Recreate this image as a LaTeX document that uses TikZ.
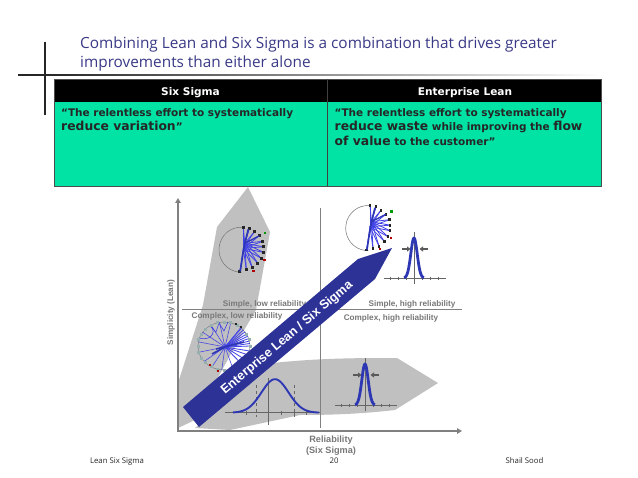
\documentclass[tikz,border=0pt]{standalone}
\usepackage{fontspec}
\setmainfont{Liberation Sans}
\newfontfamily\titlefont{Open Sans}
\newfontfamily\tablefont{DejaVu Sans}
\usetikzlibrary{arrows.meta}
\definecolor{sstitle}{RGB}{58,58,135}
\definecolor{ssgreen}{RGB}{0,227,165}
\definecolor{ssblue}{RGB}{45,50,150}
\definecolor{ssbell}{RGB}{45,55,180}
\definecolor{ssline}{RGB}{64,64,230}
\definecolor{ssgrey}{RGB}{192,192,192}
\definecolor{ssaxis}{RGB}{128,128,128}
\definecolor{sslabel}{RGB}{120,120,120}
\definecolor{ssnode}{RGB}{150,175,175}
\newcommand{\bigcell}{\fontsize{12.4}{14}\selectfont}
\tikzset{
  titletext/.style={anchor=base west,inner sep=0pt,text=sstitle,font=\titlefont\fontsize{15.4}{18}\selectfont},
  headtext/.style={anchor=base,inner sep=0pt,text=white,font=\tablefont\bfseries\fontsize{10.6}{12}\selectfont},
  celltext/.style={anchor=base west,inner sep=0pt,text=black!85,font=\tablefont\bfseries\fontsize{10.5}{12}\selectfont},
  charttext/.style={anchor=base,inner sep=0pt,text=sslabel,font=\bfseries\fontsize{8.2}{10}\selectfont},
  foot/.style={anchor=base,inner sep=0pt,text=black!85,font=\titlefont\fontsize{7.8}{10}\selectfont},
  bandpoly/.style={fill=ssgrey,draw=none},
  axisline/.style={draw=ssaxis,line width=1.7pt,-{Triangle[length=5bp,width=5.5bp]}},
  midline/.style={draw=ssaxis,line width=1pt},
  belltick/.style={draw=black!60,line width=.5pt},
  bellcurve/.style={draw=ssbell,line width=2.8pt,line join=round},
  squeeze/.style={draw=black!65,line width=1.6pt,-{Triangle[length=3.5bp,width=5bp]}},
}
\newcommand{\halfnet}[2]{%
  \begin{scope}[shift={(#1,#2)}]
    \draw[black!55,line width=.5pt] (0,0) arc[start angle=-84,end angle=-272,x radius=22,y radius=22.5];
    \foreach \px/\py in {0/0,6/1,11/4.5,16/8.5,19.5/14,20/19.5,20/25,18/31,14.5/36,9/40.5,3/42.5,-3.5/44.3}{
      \draw[ssline,line width=.8pt] (1.5,16) -- (\px,\py);
      \draw[ssline,line width=.8pt] (0,21) -- (\px,\py);
      \fill[black!85] (\px-1.4,\py-1.4) rectangle (\px+1.4,\py+1.4);
    }
    \draw[ssbell,line width=1.6pt] (5,2) -- (1.5,16) -- (0,24) -- (-3,44);
    \draw[ssbell,line width=1.2pt] (16,8.5) -- (1.5,16);
    \fill[green!60!black] (21.5,5.8) ++(-1.3,-1.1) rectangle ++(2.6,2.2);
    \fill[red!70!black] (21,32.5) ++(-1.3,-1.1) rectangle ++(2.6,2.2);
    \fill[red!70!black] (10,43.5) ++(-1.3,-1.1) rectangle ++(2.6,2.2);
  \end{scope}}
\newcommand{\bellplot}[3]{%
  \draw[belltick] (#1-30,#2) -- (#1+32,#2);
  \draw[belltick] (#1,#3-6) -- (#1,#2+6);
  \foreach \t in {-24,-16,-8,8,16,24}{\draw[belltick] (#1+\t,#2-1.5) -- (#1+\t,#2+1.5);}
  \draw[bellcurve] plot[domain=-10:10,samples=50,smooth] ({#1+\x},{#2-(#2-#3)*exp(-(\x/3.2)*(\x/3.2)/2)});
  \draw[squeeze] (#1-12,#3+11) -- (#1-3.5,#3+11);
  \draw[squeeze] (#1+14,#3+11) -- (#1+5.5,#3+11);}
\begin{document}
\begin{tikzpicture}[x=1bp,y=-1bp]
\useasboundingbox (0,0) rectangle (638,478);
\fill[white] (0,0) rectangle (638,478);
% title
\node[titletext] (t1) at (80,49) {Combining Lean and Six Sigma is a combination that drives greater};
\node[titletext] (t2) at (80,68) {improvements than either alone};
% cross
\draw[black!85,line width=1.3pt] (45,42) -- (45,115);
\draw[black!85,line width=1.3pt] (18,75) -- (46,75);
\shade[left color=black!85,right color=white] (45,74.3) rectangle (600,75.8);
% table
\fill[ssgreen] (54.5,102.5) rectangle (601.5,186);
\fill[black] (54.5,79.5) rectangle (601.5,102.5);
\draw[black!70,line width=.8pt] (54.5,79.5) rectangle (601.5,186);
\draw[black!75,line width=1pt] (327,79.5) -- (327,186);
\node[headtext] (h1) at (190.5,95.5) {Six Sigma};
\node[headtext] (h2) at (465,95.5) {Enterprise Lean};
\node[celltext] (c11) at (61,116.5) {“The relentless effort to systematically};
\node[celltext] (c12) at (61,131) {{\bigcell reduce variation}”};
\node[celltext] (c21) at (334.5,116.5) {“The relentless effort to systematically};
\node[celltext] (c22) at (334.5,131) {{\bigcell reduce waste} while improving the {\bigcell flow}};
\node[celltext] (c23) at (334.5,146) {{\bigcell of value} to the customer”};
% grey bands
\fill[bandpoly] (248,187) -- (270,232) -- (256,310) -- (240,337) -- (195,420) -- (178,428) -- (178,383) -- (203,305) -- (217,227) -- cycle;
\fill[bandpoly] (273,363) .. controls (320,358) and (360,358) .. (397,358) -- (438,383) -- (395,410) .. controls (360,414) and (330,415) .. (300,415) -- (230,430) -- (195,428) -- cycle;
% axes
\draw[axisline] (178,431) -- (178,198);
\draw[axisline] (177.2,431) -- (462,431);
\draw[midline] (320.5,208) -- (320.5,428);
\draw[midline] (182,309) -- (462,309);
% complex network
\begin{scope}[shift={(224,346)}]
  \draw[black!55,line width=.4pt] (0,0) circle[x radius=26,y radius=24];
  \foreach \a in {-48,-42,-36,-30,-24,-18,-12,-6,0,12,22,35,48}{\draw[ssline,line width=.8pt] (1,1) -- (\a:26 and 24);}
  \foreach \a in {70,95,118,140,165,190,215,240,260,285,310}{\draw[ssline,line width=.55pt] (1,1) -- (\a:26 and 24);}
  \draw[ssline,line width=.6pt] (-25,-8) .. controls (-10,-4) and (-8,-18) .. (-14,-20);
  \draw[ssline,line width=.6pt] (-14,-20) -- (-8,-14) -- (-5,-23) -- (0,-15) -- (4,-24);
  \draw[ssbell,line width=1.6pt] (-8,3) -- (20,-4);
  \draw[ssbell,line width=1.6pt] (1,1) -- (-12,8);
  \foreach \a in {0,15,30,45,60,75,90,105,120,135,150,165,180,195,210,225,240,255,270,285,300,330,345}{
    \fill[ssnode] (\a:26 and 24) ++(-1.5,-1.5) rectangle ++(3,3);}
  \fill[black!85] (11,-23.5) rectangle ++(2.4,2.4);
  \fill[black!85] (16,-20) rectangle ++(2.4,2.4);
  \fill[red!70!black] (-15,18) rectangle ++(2.4,2.4);
  \fill[red!70!black] (-7.5,23.5) rectangle ++(2.4,2.4);
\end{scope}
% half networks
\halfnet{243.3}{227.3}
\halfnet{370}{205.7}
% labels
\node[charttext] (l1) at (264.5,306) {Simple, low reliability};
\node[charttext] (l2) at (237,318) {Complex, low reliability};
\node[charttext] (l3) at (412,306) {Simple, high reliability};
\node[charttext] (l4) at (391,320) {Complex, high reliability};
\node[charttext,anchor=base,rotate=90] (yl) at (173,312.5) {Simplicity (Lean)};
\node[charttext,font=\bfseries\fontsize{9.2}{10}\selectfont] (x1) at (331,442) {Reliability};
\node[charttext,font=\bfseries\fontsize{9.2}{10}\selectfont] (x2) at (331,453.5) {(Six Sigma)};
% big arrow
\fill[ssblue] (183,407) -- (358,259) -- (392,248) -- (375,279) -- (199,427) -- cycle;
\node[anchor=center,inner sep=0pt,rotate=40.3,text=white,font=\bfseries\fontsize{12.8}{15}\selectfont] (arr) at (287,338) {Enterprise Lean / Six Sigma};
% wide bell
\draw[belltick] (225,412.7) -- (320,412.7);
\draw[belltick,line width=.7pt] (268,378) -- (268,425);
\draw[belltick,dashed,line width=1pt] (256,385) -- (256,417);
\draw[belltick,dashed,line width=1pt] (294,385) -- (294,417);
\foreach \t in {246,268,281,294,306}{\draw[belltick] (\t,411) -- (\t,414.5);}
\draw[ssbell,line width=1.9pt] plot[domain=-42:44,samples=70,smooth] ({275+\x},{412.7-33.5*exp(-(\x/13.5)*(\x/13.5)/2)});
% narrow bells
\bellplot{365}{405}{364}
\bellplot{414}{278}{238}
% footer
\node[foot] (f1) at (117,463) {Lean Six Sigma};
\node[foot] (f2) at (334,463) {20};
\node[foot] (f3) at (524.5,463) {Shail Sood};
\end{tikzpicture}
\end{document}
